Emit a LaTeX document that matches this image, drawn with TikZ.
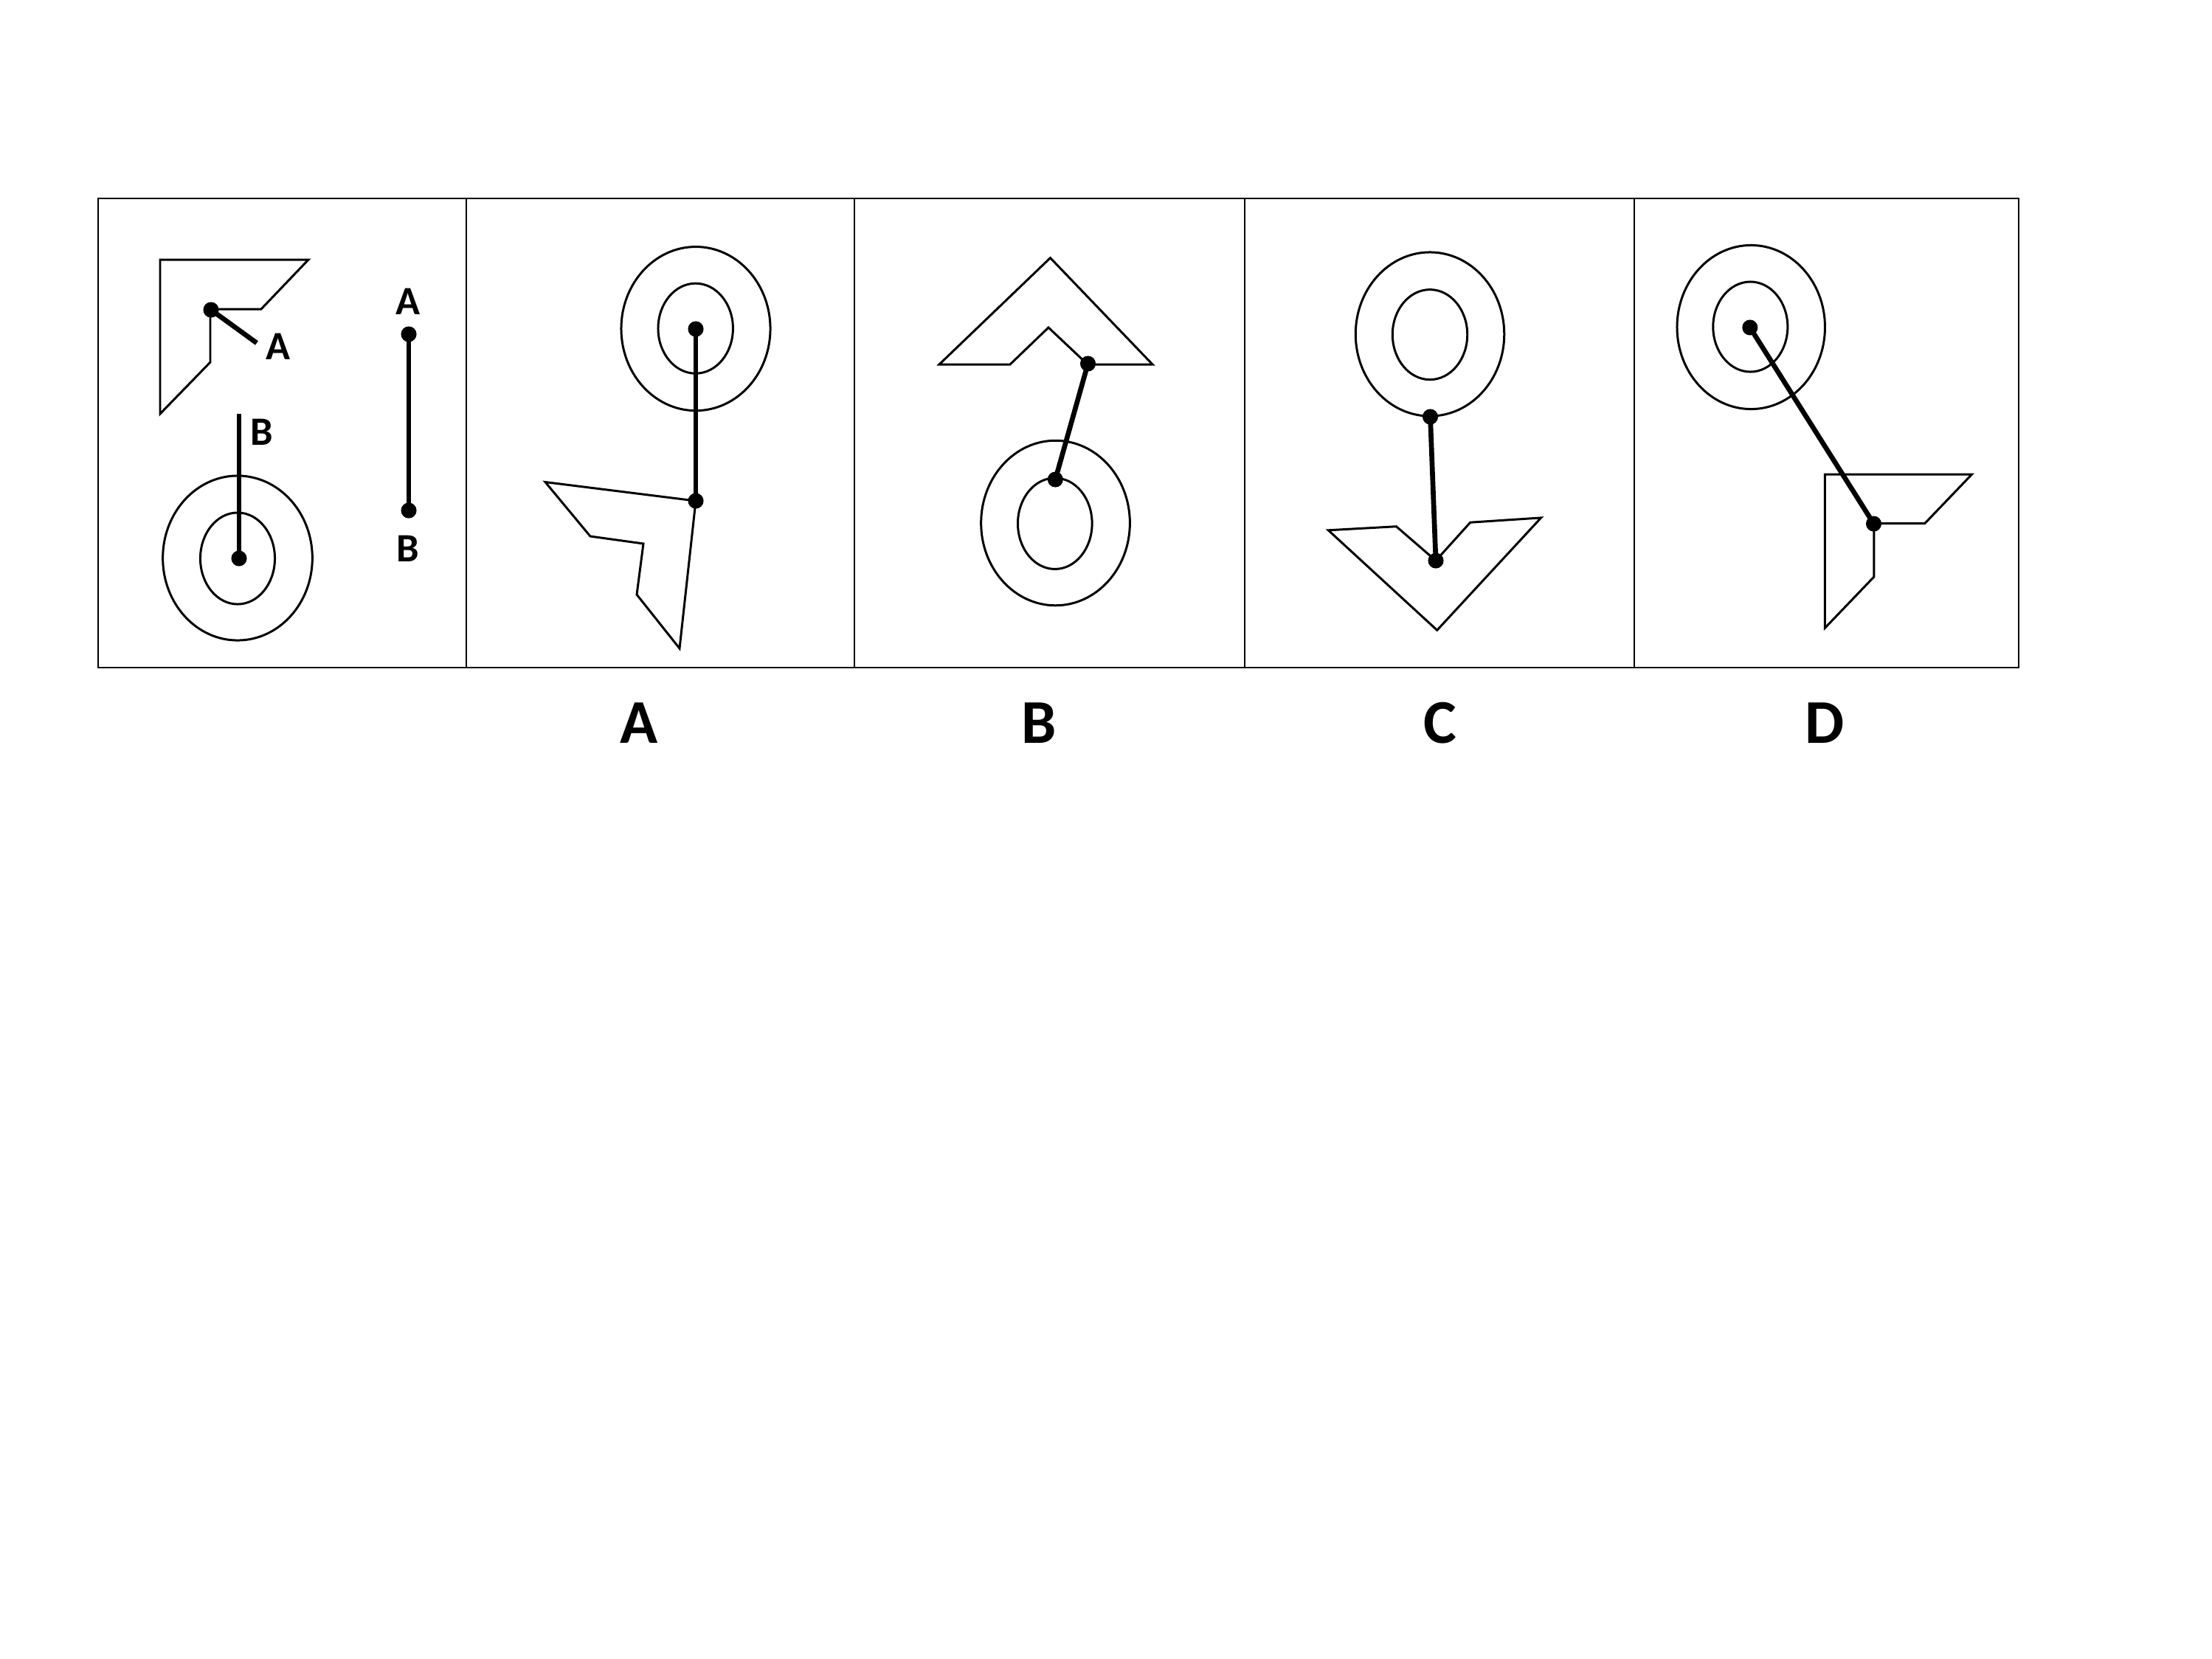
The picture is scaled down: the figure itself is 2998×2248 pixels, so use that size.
\documentclass[tikz,border=0pt]{standalone}
\usepackage{fontspec}
\setmainfont{Carlito}
\tikzset{
  framestyle/.style={line width=0.55pt, draw=black},
  shapeline/.style={line width=0.85pt, draw=black, line join=miter},
  rod/.style={line width=1.9pt, draw=black},
  jointdot/.style={circle, fill=black, inner sep=0pt, minimum size=6pt},
  lblsmall/.style={inner sep=0pt, font=\fontsize{15.5}{18}\selectfont\bfseries},
  lblbig/.style={inner sep=0pt, font=\fontsize{24}{28}\selectfont\bfseries}
}
\begin{document}
\begin{tikzpicture}[x=0.01cm,y=-0.01cm]
\useasboundingbox (0,0) rectangle (2998,2248);
\fill[white] (0,0) rectangle (2998,2248);
% frame
\draw[framestyle] (133,269) rectangle (2736,905);
\foreach \xx in {632,1158,1687,2215} \draw[framestyle] (\xx,269) -- (\xx,905);

% ---------- Panel 1 ----------
\draw[shapeline] (217,352) -- (418,352) -- (354,419) -- (285,419) -- (285,491) -- (217,561) -- cycle;
\coordinate (p1aend) at (348,465);
\node[jointdot] (p1a) at (286,420) {};
\draw[rod] (p1a.center) -- (p1aend);
\node[lblsmall] (p1la) at (377,470) {A};
\draw[shapeline] (322,756.5) ellipse [x radius=1.013cm, y radius=1.115cm];
\draw[shapeline] (322,757) ellipse [x radius=0.505cm, y radius=0.62cm];
\coordinate (p1btop) at (324,561);
\node[jointdot] (p1b) at (324,757) {};
\draw[rod] (p1btop) -- (p1b.center);
\node[lblsmall] (p1lb) at (355,586) {B};
% legend rod
\node[lblsmall] (p1ra) at (553,409) {A};
\node[jointdot] (p1rtop) at (554,453) {};
\node[jointdot] (p1rbot) at (554,692) {};
\draw[rod] (p1rtop.center) -- (p1rbot.center);
\node[lblsmall] (p1rb) at (553,744) {B};

% ---------- Panel A ----------
\draw[shapeline] (943,445.6) ellipse [x radius=1.01cm, y radius=1.11cm];
\draw[shapeline] (942.7,445.2) ellipse [x radius=0.507cm, y radius=0.61cm];
\draw[shapeline] (739,653.5) -- (943,679) -- (921,879) -- (863,806) -- (872,737) -- (800,727) -- cycle;
\node[jointdot] (pAtop) at (943,446) {};
\node[jointdot] (pAbot) at (943,679) {};
\draw[rod] (pAtop.center) -- (pAbot.center);

% ---------- Panel B ----------
\draw[shapeline] (1273,494) -- (1423.5,349.6) -- (1562,494) -- (1474,494) -- (1421,444) -- (1369,494) -- cycle;
\draw[shapeline] (1430.5,709) ellipse [x radius=1.008cm, y radius=1.117cm];
\draw[shapeline] (1429.8,709.7) ellipse [x radius=0.503cm, y radius=0.617cm];
\node[jointdot] (pBtop) at (1474.5,493) {};
\node[jointdot] (pBbot) at (1430.3,650) {};
\draw[rod] (pBtop.center) -- (pBbot.center);

% ---------- Panel C ----------
\draw[shapeline] (1938,453) ellipse [x radius=1.007cm, y radius=1.11cm];
\draw[shapeline] (1938,453.6) ellipse [x radius=0.507cm, y radius=0.61cm];
\draw[shapeline] (1800.3,718.8) -- (1892.4,713.7) -- (1946,760) -- (1992.7,708.2) -- (2088.6,701.9) -- (1947.7,854.3) -- cycle;
\node[jointdot] (pCtop) at (1938.5,565) {};
\node[jointdot] (pCbot) at (1946,760) {};
\draw[rod] (pCtop.center) -- (pCbot.center);

% ---------- Panel D ----------
\draw[shapeline] (2373.2,443.5) ellipse [x radius=1.002cm, y radius=1.11cm];
\draw[shapeline] (2372.3,443) ellipse [x radius=0.505cm, y radius=0.61cm];
\draw[shapeline] (2473.4,643) -- (2672.5,643) -- (2608.8,709.5) -- (2539.9,709.5) -- (2539.9,781.9) -- (2473.4,851.3) -- cycle;
\node[jointdot] (pDtop) at (2371.8,444) {};
\node[jointdot] (pDbot) at (2539.5,710) {};
\draw[rod] (pDtop.center) -- (pDbot.center);

% ---------- option labels ----------
\node[lblbig] (optA) at (866,980) {A};
\node[lblbig] (optB) at (1408,980) {B};
\node[lblbig] (optC) at (1952,980) {C};
\node[lblbig] (optD) at (2473,980) {D};
\end{tikzpicture}
\end{document}
